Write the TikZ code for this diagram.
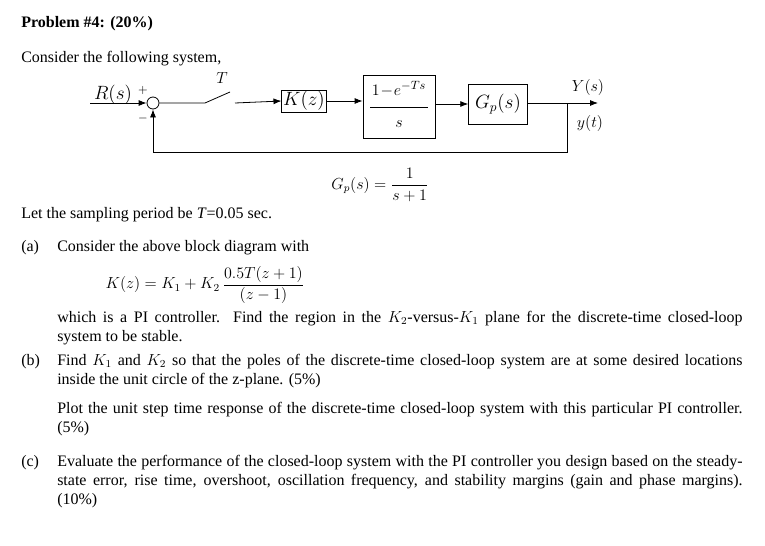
\documentclass[tikz,border=0pt]{standalone}
\usepackage{fontspec}
\setmainfont{Liberation Serif}
\usepackage{amsmath}
\usetikzlibrary{arrows.meta}
\begin{document}
\begin{tikzpicture}[x=0.75pt,y=-0.75pt,
  txt/.style={anchor=base west,inner sep=0pt,font=\fontsize{12}{14.25}\selectfont},
  par/.style={txt,text width=514pt,align=justify},
  blk/.style={draw,line width=0.6pt,inner sep=1pt,font=\fontsize{14}{16}\selectfont},
  sig/.style={line width=0.6pt,-{Latex[length=6pt,width=4.5pt]}},
  ln/.style={line width=0.6pt}]
\useasboundingbox (0,0) rectangle (765,546);
\node[txt,font=\fontsize{12}{14}\selectfont\bfseries] (t0) at (21,27) {Problem \#4: (20\%)};
\node[txt] (t1) at (21,62) {Consider the following system,};
% diagram
\coordinate (in) at (90,103);
\node[draw,circle,minimum size=9pt,inner sep=0pt,line width=0.6pt] (sum) at (153,103) {};
\node[font=\fontsize{14}{16}\selectfont] (R) at (113,95) {$R(s)$};
\node[font=\small] (plus) at (143,90) {$+$};
\node[font=\small] (minus) at (143,118) {$-$};
\coordinate (sw1) at (205,103);
\coordinate (sw2) at (230,92);
\coordinate (sw3) at (235,103);
\node[font=\fontsize{13}{15}\selectfont] (T) at (222,78) {$T$};
\node[blk,minimum width=32pt,minimum height=15pt] (K) at (304,101) {$K(z)$};
\node[draw,line width=0.6pt,minimum width=54pt,minimum height=47pt] (H) at (399,107) {};
\node[font=\fontsize{12.5}{15}\selectfont] (Hn) at (399,89) {$1\!-\!e^{-Ts}$};
\node[font=\fontsize{13}{15}\selectfont] (Hd) at (399,124) {$s$};
\draw[ln] (370,107) -- (428,107);
\node[blk,minimum width=44pt,minimum height=30pt] (G) at (498,104) {$G_p(s)$};
\coordinate (tap) at (567,103);
\coordinate (out) at (598,103);
\coordinate (fb) at (567,152);
\coordinate (fb2) at (153,152);
\node[font=\fontsize{13}{15}\selectfont] (Y) at (588,87) {$Y(s)$};
\node[font=\fontsize{13}{15}\selectfont] (yt) at (590,123) {$y(t)$};
\draw[sig] (in) -- (sum.west);
\draw[ln] (sum.east) -- (sw1) -- (sw2);
\draw[sig] (sw3) -- (K.west);
\draw[sig] (K.east) -- (H.west|-K.east);
\draw[sig] (H.east|-G.west) -- (G.west);
\draw[ln] (G.east|-tap) -- (tap);
\draw[sig] (tap) -- (out);
\draw[sig] (tap) -- (fb) -- (fb2) -- (sum.south);
\node[font=\fontsize{11.5}{13}\selectfont] (Gp) at (380,185) {$G_p(s)=\dfrac{1}{s+1}$};
\node[txt] (t2) at (21,218) {Let the sampling period be \textit{T}=0.05 sec.};
\node[txt] (a) at (21,251) {(a)};
\node[txt] (a1) at (57,251) {Consider the above block diagram with};
\node[font=\fontsize{11.5}{13}\selectfont] (Kz) at (205,285) {$K(z)=K_1+K_2\,\dfrac{0.5T(z+1)}{(z-1)}$};
\node[par] (a2) at (57,322) {which is a PI controller. Find the region in the $K_2$-versus-$K_1$ plane for the discrete-time closed-loop \linebreak system to be stable.};
\node[txt] (b) at (21,365) {(b)};
\node[par] (b1) at (57,365) {Find $K_1$ and $K_2$ so that the poles of the discrete-time closed-loop system are at some desired locations \linebreak inside the unit circle of the z-plane. (5\%)};
\node[par] (b2) at (57,413) {Plot the unit step time response of the discrete-time closed-loop system with this particular PI controller. (5\%)};
\node[txt] (c) at (21,466) {(c)};
\node[par] (c1) at (57,466) {Evaluate the performance of the closed-loop system with the PI controller you design based on the steady-state error, rise time, overshoot, oscillation frequency, and stability margins (gain and phase margins). \linebreak (10\%)};
\end{tikzpicture}
\end{document}
